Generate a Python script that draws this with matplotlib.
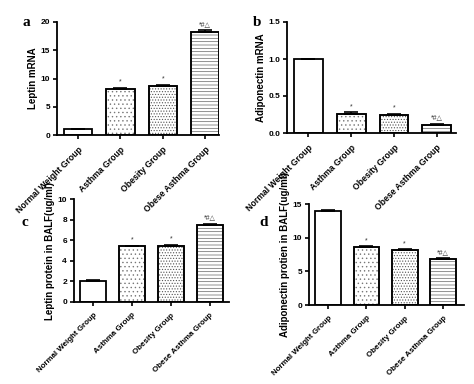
import matplotlib
matplotlib.use("Agg")
import matplotlib.pyplot as plt
import numpy as np

plt.rcParams['hatch.linewidth'] = 0.5
plt.rcParams['font.family'] = ['Liberation Sans', 'DejaVu Sans']

groups = ["Normal Weight Group", "Asthma Group", "Obesity Group", "Obese Asthma Group"]

leptin_mrna = [1.0, 8.2, 8.7, 18.3]
leptin_mrna_err = [0.05, 0.2, 0.2, 0.25]
adipo_mrna = [1.0, 0.26, 0.245, 0.11]
adipo_mrna_err = [0.0, 0.02, 0.015, 0.015]
leptin_balf = [2.05, 5.4, 5.45, 7.5]
leptin_balf_err = [0.1, 0.08, 0.12, 0.12]
adipo_balf = [13.9, 8.6, 8.15, 6.8]
adipo_balf_err = [0.15, 0.15, 0.15, 0.12]
marks = ["", "*", "*", "*#△"]

hatches = [None, "....", "......", "-----"]
hatch_colors = ["black", "#777777", "#555555", "#666666"]

W, H = 474, 384
fig = plt.figure(figsize=(W / 100, H / 100), dpi=100)
fig.patch.set_facecolor("white")


def make_ax(x0, x1, y_top, y_bot):
    return fig.add_axes([x0 / W, 1 - y_bot / H, (x1 - x0) / W, (y_bot - y_top) / H])


def panel(ax, vals, errs, ylabel, ylim, yticks, yticklabels, xlim, letter, lpos, mark_off, xfs):
    x = np.arange(len(vals))
    for i in range(len(vals)):
        b = ax.bar(x[i], vals[i], width=0.67, color="white", edgecolor="black",
                   linewidth=1.3, hatch=hatches[i], zorder=2)
        if hatches[i]:
            b[0].set_edgecolor(hatch_colors[i])
            ax.bar(x[i], vals[i], width=0.67, color="none", edgecolor="black",
                   linewidth=1.3, zorder=3)
    ax.errorbar(x, vals, yerr=[np.zeros(len(errs)), errs], fmt="none", ecolor="black",
                elinewidth=1.2, capsize=5, capthick=1.2, zorder=4)
    for i in range(len(vals)):
        if marks[i]:
            ax.text(x[i], vals[i] + errs[i] + mark_off, marks[i], ha="center", va="bottom",
                    fontsize=5, color="#333333")
    ax.set_xlim(*xlim)
    ax.set_ylim(*ylim)
    ax.set_yticks(yticks)
    ax.set_yticklabels(yticklabels, fontsize=6, fontweight="bold")
    ax.set_xticks(x)
    ax.set_xticklabels(groups, rotation=45, ha="right", rotation_mode="anchor",
                       fontsize=xfs, fontweight="bold")
    ax.set_ylabel(ylabel, fontsize=7, fontweight="bold", labelpad=1.5)
    for s in ["top", "right"]:
        ax.spines[s].set_visible(False)
    for s in ["left", "bottom"]:
        ax.spines[s].set_linewidth(1.3)
    ax.tick_params(axis="both", direction="out", width=1.2, length=3, pad=2)
    ax.tick_params(axis="x", pad=4)
    ax.set_facecolor("none")
    fig.text(lpos[0] / W, 1 - lpos[1] / H, letter, fontsize=11, fontweight="bold",
             family="Liberation Serif", ha="center", va="center")


ax_a = make_ax(57, 219, 22, 135)
panel(ax_a, leptin_mrna, leptin_mrna_err, "Leptin mRNA", (0, 20), [0, 5, 10, 15, 20],
      ["0", "5", "10", "15", "20"], (-0.5, 3.33), "a", (26, 22), 0.4, 6.2)

ax_b = make_ax(287, 456, 22, 133)
panel(ax_b, adipo_mrna, adipo_mrna_err, "Adiponectin mRNA", (0, 1.5), [0, 0.5, 1.0, 1.5],
      ["0.0", "0.5", "1.0", "1.5"], (-0.5, 3.45), "b", (257, 22), 0.03, 6.2)

ax_c = make_ax(74, 229, 199, 302)
panel(ax_c, leptin_balf, leptin_balf_err, "Leptin protein in BALF(ug/ml)", (0, 10),
      [0, 2, 4, 6, 8, 10], ["0", "2", "4", "6", "8", "10"], (-0.5, 3.5), "c", (25, 222), 0.2, 5.7)

ax_d = make_ax(309, 464, 204, 305)
panel(ax_d, adipo_balf, adipo_balf_err, "Adiponectin protien in BALF(ug/ml)", (0, 15),
      [0, 5, 10, 15], ["0", "5", "10", "15"], (-0.5, 3.55), "d", (264, 222), 0.3, 5.7)

fig.savefig("out.png", dpi=100, facecolor="white")
